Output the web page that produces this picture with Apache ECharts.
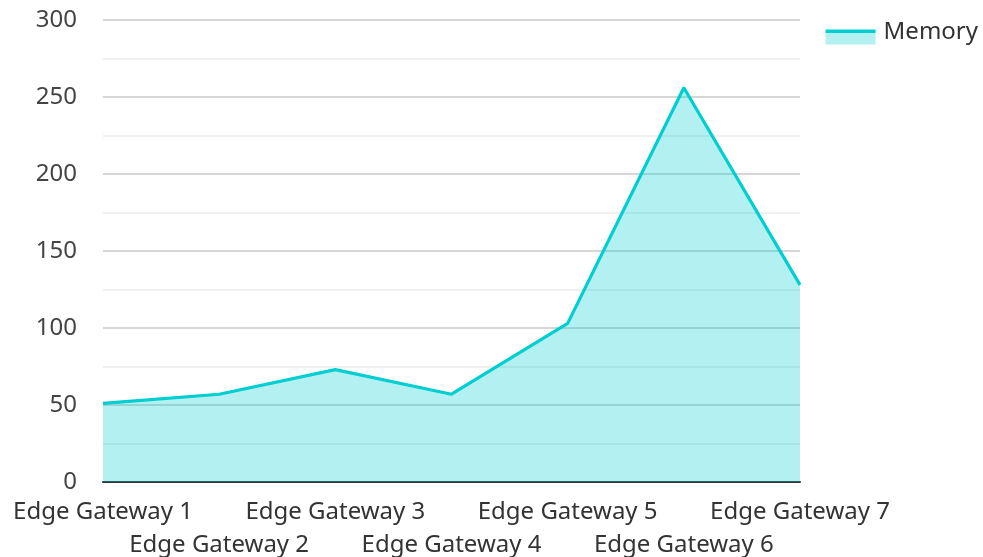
<!DOCTYPE html>
<html><head><meta charset="utf-8">
<script src="https://cdn.jsdelivr.net/npm/echarts@6/dist/echarts.min.js"></script>
<style>html,body{margin:0;padding:0;background:#fff}#c{width:983px;height:557px}</style>
</head><body><div id="c"></div>
<script>
var categories = ['Edge Gateway 1','Edge Gateway 2','Edge Gateway 3','Edge Gateway 4','Edge Gateway 5','Edge Gateway 6','Edge Gateway 7'];
var memory = [51, 57, 73, 57, 103, 256, 128];
var yTicks = [0, 50, 100, 150, 200, 250, 300];
var chart = echarts.init(document.getElementById('c'));
chart.setOption({
  animation: false,
  textStyle: {fontFamily: 'Noto Sans'},
  legend: {
    right: 0, top: 12, itemWidth: 50, itemHeight: 30, itemGap: 9,
    icon: 'path://M0,0L0.01,0L0.01,0.01Z M0,30L0.01,30L0.01,29.99Z M0,12.5L50,12.5L50,27.5L0,27.5Z',
    itemStyle: {
      color: {type: 'linear', x: 0, y: 0, x2: 0, y2: 1, colorStops: [
        {offset: 0, color: '#00CED1'}, {offset: 0.52, color: '#00CED1'},
        {offset: 0.52, color: '#b2f0f1'}, {offset: 1, color: '#b2f0f1'}]}
    },
    textStyle: {fontSize: 24, color: '#333', fontFamily: 'Noto Sans', padding: [0, 0, 0, 3]}
  },
  grid: {left: 103, right: 183, top: 20, bottom: 75, containLabel: false, outerBoundsMode: 'none'},
  xAxis: {
    type: 'category', data: categories, boundaryGap: false,
    axisLine: {lineStyle: {color: '#333', width: 2}},
    axisTick: {show: false},
    axisLabel: {
      interval: 0, fontSize: 24, color: '#333', margin: 14, lineHeight: 33,
      formatter: function (v, i) { return i % 2 === 1 ? '\n' + v : v; }
    }
  },
  yAxis: {
    type: 'value', min: yTicks[0], max: yTicks[yTicks.length - 1], interval: 50,
    axisLabel: {fontSize: 24, color: '#444', margin: 26},
    axisLine: {show: false}, axisTick: {show: false},
    splitLine: {lineStyle: {color: '#c8c8c8', width: 1.5}},
    minorTick: {show: false, splitNumber: 2},
    minorSplitLine: {show: true, lineStyle: {color: '#ebebeb', width: 1.5}}
  },
  series: [{
    name: 'Memory', type: 'line', data: memory, symbol: 'none',
    lineStyle: {color: '#00CED1', width: 3.2},
    itemStyle: {color: '#00CED1'},
    areaStyle: {color: '#00CED1', opacity: 0.3}
  }]
});
</script></body></html>
